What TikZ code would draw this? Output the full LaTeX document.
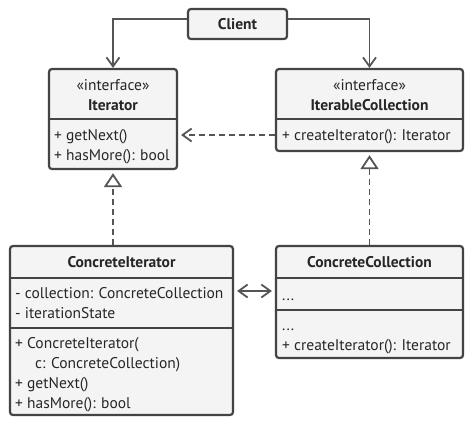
\documentclass[tikz,border=0pt]{standalone}
\usepackage{fontspec}
\setmainfont{PT Sans}
\usetikzlibrary{arrows.meta}
\definecolor{boxfill}{HTML}{F4F4F4}
\definecolor{boxline}{HTML}{444444}
\definecolor{wire}{HTML}{555555}
\tikzset{
  classbox/.style={draw=boxline, fill=boxfill, line width=2.2pt, rounded corners=3pt, inner sep=0pt},
  sepline/.style={draw=boxline, line width=2.2pt},
  txt/.style={inner sep=0pt, font=\fontsize{15.5}{18}\selectfont, text=black!85},
  member/.style={txt, anchor=base west},
  title/.style={txt, anchor=base, font=\fontsize{15.5}{18}\selectfont\bfseries},
  stereo/.style={txt, anchor=base},
  assoc/.style={draw=wire, line width=1.8pt, -{Straight Barb[length=9pt,width=13pt,line width=1.8pt]}},
  dep/.style={draw=wire, line width=1.8pt, dash pattern=on 6pt off 4pt, -{Straight Barb[length=9pt,width=13pt,line width=1.8pt]}},
  real/.style={draw=wire, line width=1.8pt, dash pattern=on 6pt off 4pt, -{Triangle[open,length=14pt,width=18pt,line width=1.8pt,fill=white]}, shorten >=3pt},
  biassoc/.style={draw=wire, line width=1.8pt, {Straight Barb[length=9pt,width=13pt,line width=1.8pt]}-{Straight Barb[length=9pt,width=13pt,line width=1.8pt]}, shorten >=3pt, shorten <=3pt}
}
\begin{document}
\begin{tikzpicture}[x=1pt,y=-1pt]
\useasboundingbox (0,0) rectangle (474,424);
\fill[white] (0,0) rectangle (474,424);

% Client
\node[classbox, minimum width=99pt, minimum height=30pt] (client) at (237.5,24) {};
\node[title] (clientname) at (237.5,29.5) {Client};

% Iterator
\node[classbox, minimum width=128pt, minimum height=100pt] (iter) at (113,119) {};
\draw[sepline] (iter.west |- 0,119) -- (iter.east |- 0,119);
\node[stereo] (iterstereo) at (113,90.5) {«interface»};
\node[title] (itername) at (113,110.5) {Iterator};
\node[member] (iterm1) at (54,140.5) {+ getNext()};
\node[member] (iterm2) at (54,160.5) {+ hasMore(): bool};

% IterableCollection
\node[classbox, minimum width=187pt, minimum height=82pt] (icoll) at (369.5,110) {};
\draw[sepline] (icoll.west |- 0,119) -- (icoll.east |- 0,119);
\node[stereo] (icollstereo) at (369.5,90.5) {«interface»};
\node[title] (icollname) at (369.5,110.5) {IterableCollection};
\node[member] (icollm1) at (282,140.5) {+ createIterator(): Iterator};

% ConcreteIterator
\node[classbox, minimum width=223pt, minimum height=169pt] (citer) at (121.5,330.5) {};
\draw[sepline] (citer.west |- 0,278) -- (citer.east |- 0,278);
\draw[sepline] (citer.west |- 0,328) -- (citer.east |- 0,328);
\node[title] (citername) at (121.5,267.5) {ConcreteIterator};
\node[member] (citerf1) at (15,298.5) {- collection: ConcreteCollection};
\node[member] (citerf2) at (15,318.5) {- iterationState};
\node[member] (citerm1) at (15,348.5) {+ ConcreteIterator(};
\node[member] (citerm1b) at (35,368.5) {c: ConcreteCollection)};
\node[member] (citerm2) at (15,388.5) {+ getNext()};
\node[member] (citerm3) at (15,408.5) {+ hasMore(): bool};

% ConcreteCollection
\node[classbox, minimum width=187pt, minimum height=112pt] (ccoll) at (369.5,302) {};
\draw[sepline] (ccoll.west |- 0,278) -- (ccoll.east |- 0,278);
\draw[sepline] (ccoll.west |- 0,310) -- (ccoll.east |- 0,310);
\node[title] (ccollname) at (369.5,267.5) {ConcreteCollection};
\node[member] (ccollf1) at (282,300) {...};
\node[member] (ccollm1) at (282,330) {...};
\node[member] (ccollm2) at (282,350.5) {+ createIterator(): Iterator};

% connectors
\coordinate (clientout) at (0,19);
\coordinate (depy) at (0,135);
\coordinate (assy) at (0,291);
\draw[assoc] (client.west |- clientout) -| (iter.north);
\draw[assoc] (client.east |- clientout) -| (icoll.north);
\draw[dep] (icoll.west |- depy) -- ([xshift=3pt]iter.east |- depy);
\draw[real] (citer.north -| iter.south) -- (iter.south);
\draw[real] (ccoll.north) -- (icoll.south);
\draw[biassoc] (citer.east |- assy) -- (ccoll.west |- assy);
\end{tikzpicture}
\end{document}
